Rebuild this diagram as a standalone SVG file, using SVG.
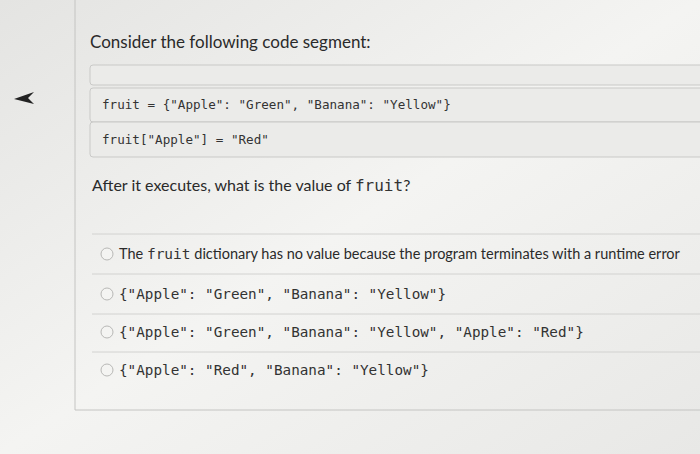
<svg xmlns="http://www.w3.org/2000/svg" width="700" height="454" viewBox="0 0 700 454">
<defs>
<linearGradient id="bg" x1="0" y1="0" x2="1" y2="1">
<stop offset="0" stop-color="#e4e4e2"/><stop offset="0.5" stop-color="#f4f4f2"/><stop offset="1" stop-color="#e8e8e6"/>
</linearGradient>
<style>
.t{font-family:Lato,"Liberation Sans",sans-serif;fill:#2a2a2a}
.m{font-family:"DejaVu Sans Mono","Liberation Mono",monospace;fill:#333}
.box{fill:#ebebe9;stroke:#c9c9c7;stroke-width:1}
.sep{stroke:#d2d2d0;stroke-width:1}
.rad{fill:#f4f4f2;stroke:#b8b8b6;stroke-width:1}
</style>
</defs>
<rect width="700" height="454" fill="url(#bg)"/>
<line x1="75" y1="0" x2="75" y2="410" stroke="#c4c4c2"/>
<line x1="75" y1="410" x2="700" y2="410" stroke="#c4c4c2"/>
<polygon points="14,99 34,92 28,98 34,104" fill="#222"/>
<text class="t" x="90" y="48" font-size="17">Consider the following code segment:</text>
<g id="code">
<rect class="box" x="90" y="65" width="620" height="20" rx="3"/>
<rect class="box" x="90" y="88" width="620" height="34" rx="3"/>
<rect class="box" x="90" y="122" width="620" height="35" rx="3"/>
<text class="m" x="102" y="109" font-size="12.6">fruit = {"Apple": "Green", "Banana": "Yellow"}</text>
<text class="m" x="102" y="144" font-size="12.6">fruit["Apple"] = "Red"</text>
</g>
<text class="t" x="92" y="191" font-size="16">After it executes, what is the value of <tspan class="m" font-size="16">fruit</tspan>?</text>
<g id="options">
<line class="sep" x1="92" y1="234" x2="700" y2="234"/>
<line class="sep" x1="92" y1="274" x2="700" y2="274"/>
<line class="sep" x1="92" y1="314" x2="700" y2="314"/>
<line class="sep" x1="92" y1="352" x2="700" y2="352"/>
<circle class="rad" cx="107" cy="254" r="6"/>
<circle class="rad" cx="107" cy="294" r="6"/>
<circle class="rad" cx="107" cy="332" r="6"/>
<circle class="rad" cx="107" cy="370" r="6"/>
<text class="t" x="119" y="259" font-size="14.5">The <tspan class="m">fruit</tspan> dictionary has no value because the program terminates with a runtime error</text>
<text class="m" x="119" y="299" font-size="14.3">{"Apple": "Green", "Banana": "Yellow"}</text>
<text class="m" x="119" y="337" font-size="14.3">{"Apple": "Green", "Banana": "Yellow", "Apple": "Red"}</text>
<text class="m" x="119" y="375" font-size="14.3">{"Apple": "Red", "Banana": "Yellow"}</text>
</g>
</svg>
